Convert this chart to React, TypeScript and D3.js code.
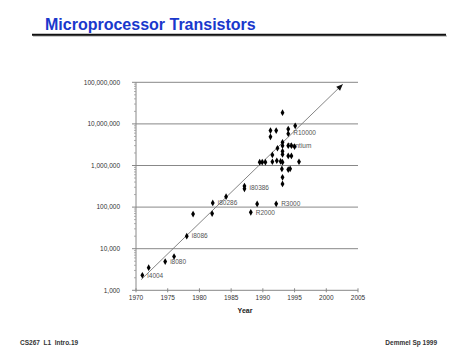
import * as d3 from "d3";

// scatter of microprocessors: year vs transistor count
const years = [
  1971, 1972, 1974.6, 1976, 1978, 1979, 1982.1, 1982, 1984.2, 1987.1, 1987.1,
  1988.1, 1989.1, 1992.1, 1993.1, 1993.1, 1995.1, 1991.2, 1992.1, 1991.2, 1994,
  1994, 1993.1, 1993.1, 1994, 1994.5, 1995, 1992.3, 1993.1, 1991.5, 1993.1, 1994,
  1994.5, 1989.5, 1989.9, 1990.4, 1991.5, 1992.2, 1992.8, 1993.1, 1995.7, 1993,
  1994, 1994.3, 1993.1,
];
const transistors = [
  2300, 3500, 4900, 6500, 20000, 68000, 126000, 70000, 178000, 275000, 320000,
  75000, 119000, 120000, 360000, 18600000, 9000000, 6900000, 6900000, 4900000, 7500000,
  5800000, 3000000, 3600000, 3000000, 3000000, 2850000, 2600000, 2200000, 1800000, 1850000, 1700000,
  1700000, 1200000, 1200000, 1200000, 1230000, 1300000, 1250000, 1200000, 1230000, 825000,
  800000, 830000, 520000,
];

const labelNames = ["i4004", "i8080", "i8086", "i80286", "i80386", "R2000", "R3000", "Pentium", "R10000"];
const labelYears = [1971, 1974.6, 1978, 1982.1, 1987.1, 1988.1, 1992.1, 1993.1, 1994];
const labelValues = [2300, 4900, 20000, 126000, 300000, 75000, 120000, 3000000, 6000000];

const trendYears = [1970.8, 2002.6];
const trendValues = [1800, 90000000];

const xTicks = [1970, 1975, 1980, 1985, 1990, 1995, 2000, 2005];
const yTicks = [1000, 10000, 100000, 1000000, 10000000, 100000000];

export default function App() {
  const width = 474;
  const height = 355;
  const x = d3.scaleLinear().domain([1970, 2005]).range([136, 358]);
  const y = d3.scaleLog().domain([1000, 100000000]).range([290.3, 82.3]);

  const minor: number[] = [];
  yTicks.slice(0, -1).forEach((t) => {
    for (let k = 2; k <= 9; k++) minor.push(t * k);
  });

  const diamond = d3.symbol().type(d3.symbolDiamond).size(13)();
  const font = "Arial, 'Liberation Sans', sans-serif";
  const fmt = d3.format(",");

  const tx1 = x(trendYears[0]);
  const ty1 = y(trendValues[0]);
  const tx2 = x(trendYears[1]);
  const ty2 = y(trendValues[1]);
  const ang = Math.atan2(ty2 - ty1, tx2 - tx1);
  const ah = 7;
  const arrow = [
    [tx2, ty2],
    [tx2 - ah * Math.cos(ang - 0.4), ty2 - ah * Math.sin(ang - 0.4)],
    [tx2 - ah * Math.cos(ang + 0.4), ty2 - ah * Math.sin(ang + 0.4)],
  ];

  return (
    <div style={{ position: "fixed", left: 0, top: 0 }}>
      <svg width={width} height={height} style={{ display: "block", background: "#fff" }}>
        {/* title */}
        <text x={45} y={30} fontFamily={font} fontWeight="bold" fontSize={16} fill="#1a38cc">
          Microprocessor Transistors
        </text>
        <line x1={33} x2={447} y1={36} y2={36} stroke="#ccc" strokeWidth={2} />
        <line x1={32} x2={446} y1={34.8} y2={34.8} stroke="#111" strokeWidth={2} />

        {/* gridlines */}
        {yTicks.slice(1).map((t) => (
          <line key={t} x1={136} x2={358} y1={y(t)} y2={y(t)} stroke="#888" strokeWidth={1} />
        ))}

        {/* y axis */}
        <line x1={136} x2={136} y1={y(1e8)} y2={y(1000)} stroke="#888" />
        {yTicks.map((t) => (
          <g key={t}>
            <line x1={132} x2={136} y1={y(t)} y2={y(t)} stroke="#888" />
            <text x={120} y={y(t)} dy="0.35em" textAnchor="end" fontFamily={font} fontSize={6.5} fill="#333">
              {fmt(t)}
            </text>
          </g>
        ))}
        {minor.map((t) => (
          <line key={t} x1={134} x2={136} y1={y(t)} y2={y(t)} stroke="#999" strokeWidth={0.8} />
        ))}

        {/* x axis */}
        <line x1={136} x2={358} y1={y(1000)} y2={y(1000)} stroke="#888" />
        {xTicks.map((t) => (
          <g key={t}>
            <line x1={x(t)} x2={x(t)} y1={y(1000) - 2} y2={y(1000) + 2} stroke="#888" />
            <text x={x(t)} y={y(1000) + 10} textAnchor="middle" fontFamily={font} fontSize={6.5} fill="#333">
              {t}
            </text>
          </g>
        ))}
        <text x={245} y={313} textAnchor="middle" fontFamily={font} fontWeight="bold" fontSize={7} fill="#222">
          Year
        </text>

        {/* trend line */}
        <line x1={tx1} y1={ty1} x2={tx2} y2={ty2} stroke="#777" strokeWidth={0.9} />
        <polygon points={arrow.map((p) => p.join(",")).join(" ")} fill="#111" />

        {/* labels */}
        {labelNames.map((n, i) => (
          <text
            key={n}
            x={x(labelYears[i]) + 5}
            y={y(labelValues[i])}
            dy="0.35em"
            fontFamily={font}
            fontSize={6.5}
            fill="#555"
          >
            {n}
          </text>
        ))}

        {/* points */}
        {years.map((yr, i) => (
          <path key={i} d={diamond} transform={`translate(${x(yr)},${y(transistors[i])})`} fill="#000" />
        ))}

        {/* footer */}
        <text x={20} y={345} fontFamily={font} fontWeight="bold" fontSize={6.5} fill="#333" style={{ whiteSpace: "pre" }}>
          {"CS267  L1  Intro.19"}
        </text>
        <text x={437} y={345} textAnchor="end" fontFamily={font} fontWeight="bold" fontSize={6.5} fill="#333">
          Demmel Sp 1999
        </text>
      </svg>
    </div>
  );
}
